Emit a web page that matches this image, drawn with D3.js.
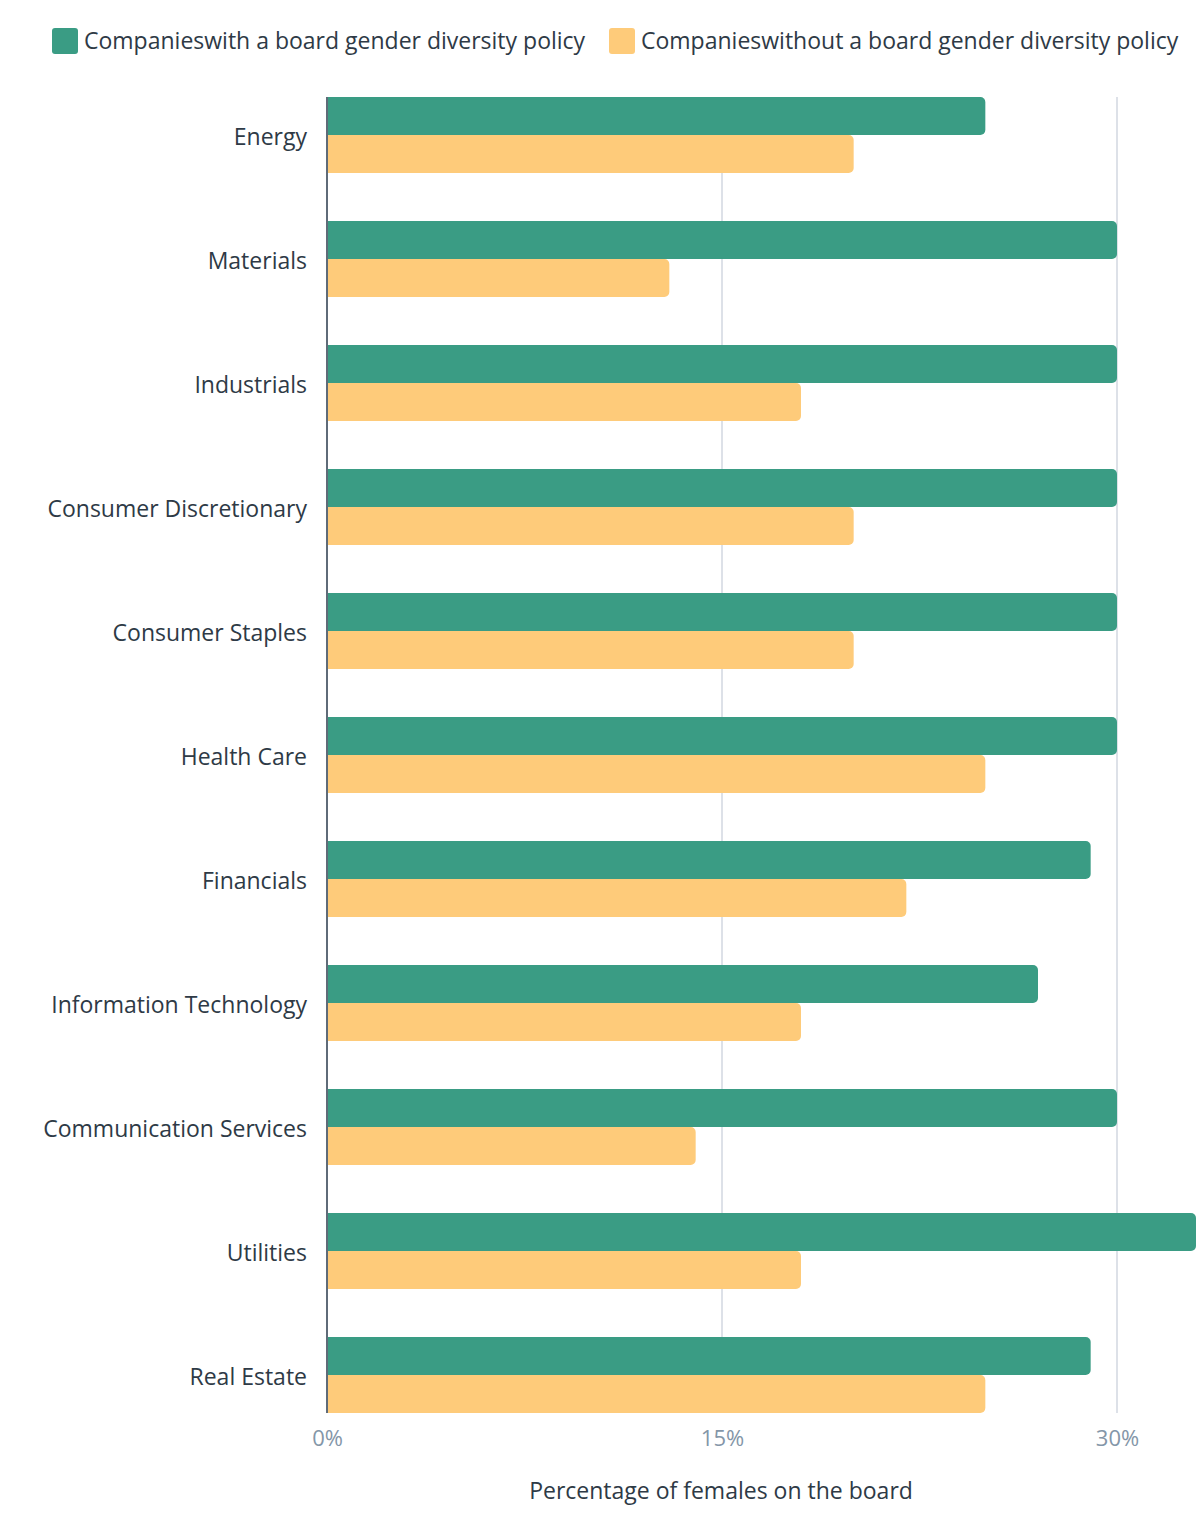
<!DOCTYPE html>
<html lang="en">
<head>
  <meta charset="UTF-8">
  <title>Board gender diversity</title>
  <script src="https://cdn.jsdelivr.net/npm/d3@7"></script>
  <style>
    body { margin: 0; background: #fff; }
    text { font-family: "Open Sans", "Noto Sans", sans-serif; }
  </style>
</head>
<body>
  <div id="box"></div>
  <script>
    // data
    const sectors = ['Energy', 'Materials', 'Industrials', 'Consumer Discretionary', 'Consumer Staples',
      'Health Care', 'Financials', 'Information Technology', 'Communication Services', 'Utilities', 'Real Estate']
    const withPolicy = [25, 30, 30, 30, 30, 30, 29, 27, 30, 33, 29]
    const withoutPolicy = [20, 13, 18, 20, 20, 25, 22, 18, 14, 18, 25]
    const seriesNames = ['Companieswith a board gender diversity policy', 'Companieswithout a board gender diversity policy']
    const xTicks = [0, 15, 30]

    const width = 1199
    const height = 1536
    const colors = ['#3a9c84', '#fecb7a']

    const svg = d3.select('#box').append('svg')
      .attr('width', width)
      .attr('height', height)

    const x = d3.scaleLinear().domain([0, 30]).range([327, 1117])
    const y = d3.scaleBand().domain(sectors).range([73, 1437])
      .paddingInner(48 / 124).paddingOuter(24 / 124)
    const sub = d3.scaleBand().domain([0, 1]).range([0, y.bandwidth()])

    const plotTop = y(sectors[0])
    const plotBottom = y(sectors[sectors.length - 1]) + y.bandwidth()

    // grid lines
    svg.append('g').selectAll('line')
      .data(xTicks.filter(d => d > 0))
      .join('line')
      .attr('x1', d => x(d)).attr('x2', d => x(d))
      .attr('y1', plotTop).attr('y2', plotBottom)
      .attr('stroke', '#dde1e8').attr('stroke-width', 2)

    // bars with rounded right end
    function barPath(x0, x1, y0, h, r) {
      const p = d3.path()
      p.moveTo(x0, y0)
      p.lineTo(x1 - r, y0)
      p.arcTo(x1, y0, x1, y0 + r, r)
      p.lineTo(x1, y0 + h - r)
      p.arcTo(x1, y0 + h, x1 - r, y0 + h, r)
      p.lineTo(x0, y0 + h)
      p.closePath()
      return p.toString()
    }

    const rows = sectors.map((s, i) => ({ s, vals: [withPolicy[i], withoutPolicy[i]] }))
    svg.append('g').selectAll('g')
      .data(rows)
      .join('g')
      .attr('transform', d => `translate(0,${y(d.s)})`)
      .selectAll('path')
      .data(d => d.vals.map((v, k) => ({ v, k })))
      .join('path')
      .attr('d', d => barPath(x(0), x(d.v), sub(d.k), sub.bandwidth(), 5))
      .attr('fill', d => colors[d.k])

    // y axis
    const yAxis = svg.append('g')
      .attr('transform', `translate(${x(0)},0)`)
      .call(d3.axisLeft(y).tickSize(0).tickPadding(20))
    yAxis.select('.domain').attr('stroke', '#5f6b78').attr('stroke-width', 2)
      .attr('d', `M0,${plotTop}V${plotBottom}`)
    yAxis.selectAll('text')
      .attr('font-size', 23).attr('fill', '#2e3a46')
      .attr('font-family', '"Open Sans", sans-serif')
      .attr('dy', '0.45em')

    // x axis
    const xAxis = svg.append('g')
      .attr('transform', `translate(0,${plotBottom})`)
      .call(d3.axisBottom(x).tickValues(xTicks).tickFormat(d => d + '%').tickSize(0).tickPadding(17))
    xAxis.select('.domain').remove()
    xAxis.selectAll('text')
      .attr('font-size', 22).attr('fill', '#8496a8')
      .attr('font-family', '"Open Sans", sans-serif')

    svg.append('text')
      .attr('x', 721).attr('y', 1499)
      .attr('text-anchor', 'middle')
      .attr('font-size', 23).attr('fill', '#2e3a46')
      .text('Percentage of females on the board')

    // legend
    const legendX = [52, 609]
    const legend = svg.append('g').selectAll('g')
      .data(seriesNames)
      .join('g')
      .attr('transform', (d, i) => `translate(${legendX[i]},28)`)
    legend.append('rect')
      .attr('width', 26).attr('height', 26).attr('rx', 3)
      .attr('fill', (d, i) => colors[i])
    legend.append('text')
      .attr('x', 32).attr('y', 21)
      .attr('font-size', 23).attr('fill', '#2e3a46')
      .text(d => d)
  </script>
</body>
</html>
